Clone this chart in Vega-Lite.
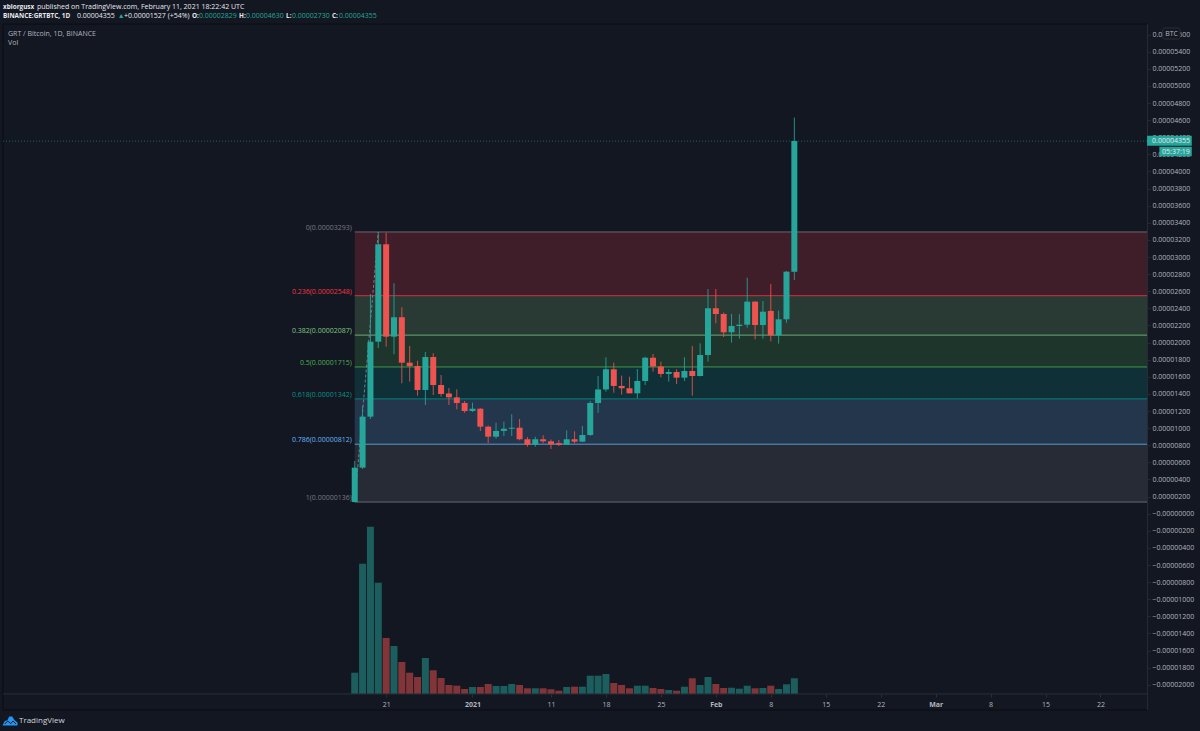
{
  "$schema": "https://vega.github.io/schema/vega-lite/v6.json",
  "width": 1200,
  "height": 731,
  "padding": 0,
  "autosize": {"type": "none"},
  "background": "#131722",
  "datasets": {
    "candles": [
      {"day":"2020-12-17","open":0.00000136,"high":0.00000616,"low":0.00000136,"close":0.00000538,"volume":21.3},
      {"day":"2020-12-18","open":0.00000538,"high":0.00001259,"low":0.00000522,"close":0.00001134,"volume":130.3},
      {"day":"2020-12-19","open":0.00001134,"high":0.00002568,"low":0.00001107,"close":0.0000201,"volume":167.3},
      {"day":"2020-12-20","open":0.0000201,"high":0.00003293,"low":0.00001937,"close":0.00003149,"volume":111.3},
      {"day":"2020-12-21","open":0.00003149,"high":0.00003284,"low":0.00001952,"close":0.00002069,"volume":56},
      {"day":"2020-12-22","open":0.00002069,"high":0.00002693,"low":0.00001863,"close":0.00002296,"volume":48},
      {"day":"2020-12-23","open":0.00002296,"high":0.00002412,"low":0.00001524,"close":0.00001765,"volume":32},
      {"day":"2020-12-24","open":0.00001765,"high":0.0000196,"low":0.00001543,"close":0.00001726,"volume":21.3},
      {"day":"2020-12-25","open":0.00001726,"high":0.00001788,"low":0.00001379,"close":0.00001446,"volume":17},
      {"day":"2020-12-26","open":0.00001446,"high":0.0000189,"low":0.0000127,"close":0.00001831,"volume":36},
      {"day":"2020-12-27","open":0.00001831,"high":0.00001875,"low":0.00001387,"close":0.00001504,"volume":23.7},
      {"day":"2020-12-28","open":0.00001504,"high":0.00001621,"low":0.00001367,"close":0.00001399,"volume":16},
      {"day":"2020-12-29","open":0.00001405,"high":0.00001469,"low":0.0000127,"close":0.0000136,"volume":9},
      {"day":"2020-12-30","open":0.0000136,"high":0.00001454,"low":0.0000122,"close":0.00001294,"volume":8.3},
      {"day":"2020-12-31","open":0.00001294,"high":0.00001317,"low":0.0000118,"close":0.000012,"volume":5},
      {"day":"2021-01-01","open":0.000012,"high":0.00001297,"low":0.00001189,"close":0.00001227,"volume":7},
      {"day":"2021-01-02","open":0.00001227,"high":0.00001232,"low":0.00000967,"close":0.00001017,"volume":7},
      {"day":"2021-01-03","open":0.00001017,"high":0.00001031,"low":0.00000826,"close":0.000009,"volume":10},
      {"day":"2021-01-04","open":0.000009,"high":0.00001064,"low":0.00000877,"close":0.00000967,"volume":8},
      {"day":"2021-01-05","open":0.00000967,"high":0.00001075,"low":0.00000908,"close":0.00000993,"volume":8},
      {"day":"2021-01-06","open":0.00000993,"high":0.00001162,"low":0.00000908,"close":0.00001005,"volume":10},
      {"day":"2021-01-07","open":0.00001005,"high":0.00001107,"low":0.00000858,"close":0.0000087,"volume":9},
      {"day":"2021-01-08","open":0.0000087,"high":0.00000896,"low":0.00000783,"close":0.00000806,"volume":5.7},
      {"day":"2021-01-09","open":0.00000806,"high":0.000009,"low":0.00000783,"close":0.0000087,"volume":5.7},
      {"day":"2021-01-10","open":0.0000087,"high":0.00000916,"low":0.00000823,"close":0.00000846,"volume":5.7},
      {"day":"2021-01-11","open":0.00000846,"high":0.00000867,"low":0.00000756,"close":0.00000811,"volume":4.7},
      {"day":"2021-01-12","open":0.00000825,"high":0.00000861,"low":0.00000791,"close":0.00000806,"volume":3.3},
      {"day":"2021-01-13","open":0.00000806,"high":0.00000975,"low":0.00000803,"close":0.0000087,"volume":7},
      {"day":"2021-01-14","open":0.0000087,"high":0.00000963,"low":0.00000823,"close":0.00000842,"volume":7.3},
      {"day":"2021-01-15","open":0.00000842,"high":0.00001025,"low":0.00000838,"close":0.0000092,"volume":7.3},
      {"day":"2021-01-16","open":0.0000092,"high":0.00001317,"low":0.00000908,"close":0.00001294,"volume":18.3},
      {"day":"2021-01-17","open":0.00001294,"high":0.00001609,"low":0.00001177,"close":0.00001452,"volume":18.3},
      {"day":"2021-01-18","open":0.00001452,"high":0.00001828,"low":0.00001426,"close":0.00001688,"volume":20},
      {"day":"2021-01-19","open":0.00001688,"high":0.00001765,"low":0.00001414,"close":0.00001493,"volume":11},
      {"day":"2021-01-20","open":0.00001493,"high":0.00001613,"low":0.00001391,"close":0.00001466,"volume":9},
      {"day":"2021-01-21","open":0.00001466,"high":0.00001601,"low":0.00001404,"close":0.00001407,"volume":5.7},
      {"day":"2021-01-22","open":0.00001407,"high":0.00001691,"low":0.00001349,"close":0.00001551,"volume":8.3},
      {"day":"2021-01-23","open":0.00001551,"high":0.00001835,"low":0.00001504,"close":0.00001823,"volume":8.3},
      {"day":"2021-01-24","open":0.00001823,"high":0.00001867,"low":0.0000166,"close":0.0000172,"volume":6},
      {"day":"2021-01-25","open":0.0000172,"high":0.00001777,"low":0.00001594,"close":0.00001633,"volume":5},
      {"day":"2021-01-26","open":0.00001633,"high":0.00001691,"low":0.00001543,"close":0.00001656,"volume":4},
      {"day":"2021-01-27","open":0.00001656,"high":0.00001688,"low":0.00001516,"close":0.0000159,"volume":3.3},
      {"day":"2021-01-28","open":0.0000159,"high":0.00001828,"low":0.00001551,"close":0.00001668,"volume":7.3},
      {"day":"2021-01-29","open":0.00001668,"high":0.0000196,"low":0.00001379,"close":0.00001609,"volume":15.7},
      {"day":"2021-01-30","open":0.00001609,"high":0.00001992,"low":0.00001604,"close":0.00001855,"volume":9},
      {"day":"2021-01-31","open":0.00001855,"high":0.00002626,"low":0.00001777,"close":0.00002401,"volume":17},
      {"day":"2021-02-01","open":0.00002401,"high":0.00002626,"low":0.00002225,"close":0.00002334,"volume":10},
      {"day":"2021-02-02","open":0.00002334,"high":0.00002352,"low":0.00002065,"close":0.0000212,"volume":6},
      {"day":"2021-02-03","open":0.0000212,"high":0.00002334,"low":0.00001999,"close":0.00002194,"volume":6.3},
      {"day":"2021-02-04","open":0.00002194,"high":0.00002331,"low":0.00002045,"close":0.00002209,"volume":5.3},
      {"day":"2021-02-05","open":0.00002209,"high":0.00002758,"low":0.00002174,"close":0.00002478,"volume":8.3},
      {"day":"2021-02-06","open":0.00002478,"high":0.00002486,"low":0.00002038,"close":0.00002205,"volume":5.7},
      {"day":"2021-02-07","open":0.00002205,"high":0.00002486,"low":0.00002045,"close":0.00002361,"volume":6},
      {"day":"2021-02-08","open":0.0000237,"high":0.00002685,"low":0.00002015,"close":0.00002085,"volume":8.3},
      {"day":"2021-02-09","open":0.00002085,"high":0.00002373,"low":0.00001987,"close":0.00002272,"volume":5},
      {"day":"2021-02-10","open":0.00002272,"high":0.00002835,"low":0.00002232,"close":0.00002829,"volume":9.7},
      {"day":"2021-02-11","open":0.00002829,"high":0.0000463,"low":0.0000273,"close":0.00004355,"volume":15.7}
    ],
    "fib": [
      {"level":"0","label":"0(0.00003293)","day":"2020-12-17","end":"2021-03-28","price":0.00003293},
      {"level":"0.236","label":"0.236(0.00002548)","day":"2020-12-17","end":"2021-03-28","price":0.00002548,"upper":0.00003293},
      {"level":"0.382","label":"0.382(0.00002087)","day":"2020-12-17","end":"2021-03-28","price":0.00002087,"upper":0.00002548},
      {"level":"0.5","label":"0.5(0.00001715)","day":"2020-12-17","end":"2021-03-28","price":0.00001715,"upper":0.00002087},
      {"level":"0.618","label":"0.618(0.00001342)","day":"2020-12-17","end":"2021-03-28","price":0.00001342,"upper":0.00001715},
      {"level":"0.786","label":"0.786(0.00000812)","day":"2020-12-17","end":"2021-03-28","price":0.00000812,"upper":0.00001342},
      {"level":"1","label":"1(0.00000136)","day":"2020-12-17","end":"2021-03-28","price":0.00000136,"upper":0.00000812}
    ],
    "trend": [
      {"day":"2020-12-17","price":0.00000136},
      {"day":"2020-12-20","price":0.00003293}
    ],
    "frame": [
      {"day":"2020-11-02T04:37:00Z","end":"2021-03-28","price":-0.00002294,"upper":0.00005723}
    ],
    "axisEdge": [
      {"day":"2021-03-28","price":-0.00002294,"upper":0.00005723}
    ],
    "timeLine": [
      {"day":"2020-11-02T04:37:00Z","end":"2021-03-28","price":-0.00002107}
    ],
    "lastPrice": [
      {"day":"2020-11-02T04:37:00Z","end":"2021-03-28","price":0.00004355}
    ],
    "tags": [
      {"day":"2021-03-27T22:30:00Z","end":"2021-04-02T15:06:00Z","price":0.00004301,"upper":0.00004418},
      {"day":"2021-03-29T12:06:00Z","end":"2021-04-02T15:06:00Z","price":0.00004177,"upper":0.00004289}
    ],
    "badge": [
      {"day":"2021-03-29T22:30:00Z","end":"2021-04-01T03:18:00Z","price":0.00005548,"upper":0.00005677}
    ],
    "labels": [
      {"text":"published on TradingView.com, February 11, 2021 18:22:42 UTC","day":"2020-11-06T12:34:00Z","price":0.00005922,"kind":"plain"},
      {"text":"0.00004355","day":"2020-11-11T14:52:00Z","price":0.00005817,"kind":"plain"},
      {"text":"▲","day":"2020-11-16T19:30:00Z","price":0.00005817,"kind":"up"},
      {"text":"+0.00001527 (+54%)","day":"2020-11-17T14:33:00Z","price":0.00005817,"kind":"plain"},
      {"text":"0.00002829","day":"2020-11-27T03:51:00Z","price":0.00005817,"kind":"up"},
      {"text":"0.00004630","day":"2020-12-03T03:33:00Z","price":0.00005817,"kind":"up"},
      {"text":"0.00002730","day":"2020-12-09T00:11:00Z","price":0.00005817,"kind":"up"},
      {"text":"0.00004355","day":"2020-12-14T23:56:00Z","price":0.00005817,"kind":"up"},
      {"text":"GRT / Bitcoin, 1D, BINANCE","day":"2020-11-02T19:54:00Z","price":0.00005607,"kind":"muted"},
      {"text":"Vol","day":"2020-11-02T19:54:00Z","price":0.00005502,"kind":"muted"},
      {"text":"0.00004355","day":"2021-03-28T13:47:00Z","price":0.0000436,"kind":"plain"},
      {"text":"05:37:19","day":"2021-03-29T20:21:00Z","price":0.00004233,"kind":"plain"},
      {"text":"BTC","day":"2021-03-30T05:42:00Z","price":0.00005612,"kind":"muted"}
    ],
    "boldLabels": [
      {"text":"xblorgusx","day":"2020-11-02T04:37:00Z","price":0.00005922},
      {"text":"BINANCE:GRTBTC, 1D","day":"2020-11-02T04:37:00Z","price":0.00005817},
      {"text":"O:","day":"2020-11-26T06:28:00Z","price":0.00005817},
      {"text":"H:","day":"2020-12-02T06:10:00Z","price":0.00005817},
      {"text":"L:","day":"2020-12-08T05:54:00Z","price":0.00005817},
      {"text":"C:","day":"2020-12-14T02:34:00Z","price":0.00005817}
    ],
    "logo": [
      {"day":"2020-11-03T02:01:00Z","price":-0.00002423}
    ],
    "logoText": [
      {"text":"TradingView","day":"2020-11-04T05:32:00Z","price":-0.00002423}
    ]
  },
  "encoding": {
    "x": {
      "field": "day",
      "type": "temporal",
      "scale": {"type": "utc", "nice": false, "padding": 0, "domain": ["2020-11-01T19:27:00Z", "2021-04-03T16:16:00Z"]},
      "axis": {
        "title": null,
        "orient": "bottom",
        "offset": -37,
        "grid": false,
        "domain": false,
        "tickSize": 3,
        "tickColor": "#2a2e39",
        "labelPadding": 3,
        "labelColor": "#b2b5be",
        "labelFont": "Open Sans",
        "labelFontSize": 7,
        "labelFontWeight": {"condition": {"test": "utcdate(datum.value) === 1", "value": "bold"}, "value": "normal"},
        "labelOverlap": false,
        "values": [
          {"year": 2020, "month": 12, "date": 21, "utc": true},
          {"year": 2021, "month": 1, "date": 1, "utc": true},
          {"year": 2021, "month": 1, "date": 11, "utc": true},
          {"year": 2021, "month": 1, "date": 18, "utc": true},
          {"year": 2021, "month": 1, "date": 25, "utc": true},
          {"year": 2021, "month": 2, "date": 1, "utc": true},
          {"year": 2021, "month": 2, "date": 8, "utc": true},
          {"year": 2021, "month": 2, "date": 15, "utc": true},
          {"year": 2021, "month": 2, "date": 22, "utc": true},
          {"year": 2021, "month": 3, "date": 1, "utc": true},
          {"year": 2021, "month": 3, "date": 8, "utc": true},
          {"year": 2021, "month": 3, "date": 15, "utc": true},
          {"year": 2021, "month": 3, "date": 22, "utc": true}
        ],
        "labelExpr": "utcdate(datum.value) !== 1 ? utcFormat(datum.value, '%-d') : utcmonth(datum.value) === 0 ? utcFormat(datum.value, '%Y') : utcFormat(datum.value, '%b')"
      }
    }
  },
  "layer": [
    {
      "data": {"name": "candles"},
      "mark": {"type": "bar", "size": 7, "opacity": 0.5},
      "encoding": {
        "y": {
          "field": "volume",
          "type": "quantitative",
          "scale": {"domain": [-37, 694], "nice": false, "zero": false},
          "axis": null
        },
        "color": {
          "condition": {"test": "datum.close >= datum.open", "value": "#26a69a"},
          "value": "#ef5350"
        }
      }
    },
    {
      "encoding": {
        "y": {
          "field": "price",
          "type": "quantitative",
          "scale": {"domain": [-0.0000254, 0.00006004], "nice": false, "zero": false},
          "axis": {
            "title": null,
            "orient": "right",
            "offset": -53,
            "grid": false,
            "domain": false,
            "tickSize": 3,
            "tickColor": "#2a2e39",
            "labelPadding": 2,
            "labelColor": "#b2b5be",
            "labelFont": "Open Sans",
            "labelFontSize": 7,
            "labelOverlap": false,
            "values": [0.000056, 0.000054, 0.000052, 0.00005, 0.000048, 0.000046, 0.000044, 0.000042, 0.00004, 0.000038, 0.000036, 0.000034, 0.000032, 0.00003, 0.000028, 0.000026, 0.000024, 0.000022, 0.00002, 0.000018, 0.000016, 0.000014, 0.000012, 0.00001, 0.000008, 0.000006, 0.000004, 0.000002, 0, -0.000002, -0.000004, -0.000006, -0.000008, -0.00001, -0.000012, -0.000014, -0.000016, -0.000018, -0.00002],
            "labelExpr": "datum.value === 0 ? '−0.00000000' : format(datum.value, '.8f')"
          }
        }
      },
      "layer": [
        {
          "data": {"name": "fib"},
          "transform": [{"filter": "isValid(datum.upper)"}],
          "mark": {"type": "rect", "fillOpacity": 0.2},
          "encoding": {
            "x2": {"field": "end"},
            "y2": {"field": "upper"},
            "fill": {
              "field": "level",
              "type": "nominal",
              "legend": null,
              "scale": {
                "domain": ["0", "0.236", "0.382", "0.5", "0.618", "0.786", "1"],
                "range": ["#787b86", "#f23645", "#81c784", "#4caf50", "#009688", "#64b5f6", "#787b86"]
              }
            }
          }
        },
        {
          "data": {"name": "fib"},
          "mark": {"type": "rule", "strokeWidth": 1, "opacity": 0.8},
          "encoding": {
            "x2": {"field": "end"},
            "color": {
              "field": "level",
              "type": "nominal",
              "legend": null,
              "scale": {
                "domain": ["0", "0.236", "0.382", "0.5", "0.618", "0.786", "1"],
                "range": ["#787b86", "#f23645", "#81c784", "#4caf50", "#009688", "#64b5f6", "#787b86"]
              }
            }
          }
        },
        {
          "data": {"name": "fib"},
          "mark": {"type": "text", "align": "right", "baseline": "middle", "dx": -3, "dy": -4, "font": "Open Sans", "fontSize": 7},
          "encoding": {
            "text": {"field": "label"},
            "color": {
              "field": "level",
              "type": "nominal",
              "legend": null,
              "scale": {
                "domain": ["0", "0.236", "0.382", "0.5", "0.618", "0.786", "1"],
                "range": ["#787b86", "#f23645", "#81c784", "#4caf50", "#009688", "#64b5f6", "#787b86"]
              }
            }
          }
        },
        {
          "data": {"name": "trend"},
          "mark": {"type": "line", "color": "#787b86", "strokeWidth": 1, "strokeDash": [3, 2]}
        },
        {
          "data": {"name": "candles"},
          "mark": {"type": "rule", "strokeWidth": 1, "opacity": 0.85},
          "encoding": {
            "y": {"field": "low", "type": "quantitative"},
            "y2": {"field": "high"},
            "color": {
              "condition": {"test": "datum.close >= datum.open", "value": "#26a69a"},
              "value": "#ef5350"
            }
          }
        },
        {
          "data": {"name": "candles"},
          "mark": {"type": "bar", "size": 6},
          "encoding": {
            "y": {"field": "open", "type": "quantitative"},
            "y2": {"field": "close"},
            "color": {
              "condition": {"test": "datum.close >= datum.open", "value": "#26a69a"},
              "value": "#ef5350"
            }
          }
        },
        {
          "data": {"name": "frame"},
          "mark": {"type": "rect", "filled": false, "stroke": "#0b0d13", "strokeWidth": 1},
          "encoding": {"x2": {"field": "end"}, "y2": {"field": "upper"}}
        },
        {
          "data": {"name": "axisEdge"},
          "mark": {"type": "rule", "color": "#2a2e39", "strokeWidth": 1},
          "encoding": {"y2": {"field": "upper"}}
        },
        {
          "data": {"name": "timeLine"},
          "mark": {"type": "rule", "color": "#2a2e39", "strokeWidth": 1},
          "encoding": {"x2": {"field": "end"}}
        },
        {
          "data": {"name": "lastPrice"},
          "mark": {"type": "rule", "color": "#26a69a", "strokeWidth": 1, "opacity": 0.55, "strokeDash": [1, 2]},
          "encoding": {"x2": {"field": "end"}}
        },
        {
          "data": {"name": "tags"},
          "mark": {"type": "rect", "fill": "#26a69a"},
          "encoding": {"x2": {"field": "end"}, "y2": {"field": "upper"}}
        },
        {
          "data": {"name": "badge"},
          "mark": {"type": "rect", "fill": "#131722", "stroke": "#2a2e39", "strokeWidth": 1, "cornerRadius": 2},
          "encoding": {"x2": {"field": "end"}, "y2": {"field": "upper"}}
        },
        {
          "data": {"name": "labels"},
          "mark": {"type": "text", "align": "left", "baseline": "middle", "font": "Open Sans", "fontSize": 7},
          "encoding": {
            "text": {"field": "text"},
            "color": {
              "condition": [
                {"test": "datum.kind === 'up'", "value": "#26a69a"},
                {"test": "datum.kind === 'muted'", "value": "#b2b5be"}
              ],
              "value": "#e6e8ee"
            }
          }
        },
        {
          "data": {"name": "boldLabels"},
          "mark": {"type": "text", "align": "left", "baseline": "middle", "font": "Open Sans", "fontSize": 6.4, "fontWeight": "bold", "color": "#e6e8ee"},
          "encoding": {"text": {"field": "text"}}
        },
        {
          "data": {"name": "logo"},
          "mark": {"type": "point", "filled": true, "size": 225, "opacity": 1, "color": "#2196f3", "shape": "M-1,0.6 L-0.7,0 L-0.35,-0.1 L-0.1,-0.6 L0.3,-0.6 L0.6,-0.1 L1,0.2 L1,0.6 Z"}
        },
        {
          "data": {"name": "logo"},
          "mark": {"type": "point", "filled": false, "size": 225, "opacity": 1, "strokeWidth": 1, "color": "#131722", "shape": "M-0.7,0.4 L-0.3,0 L0.1,0.35 L0.4,0 L0.8,0.4"}
        },
        {
          "data": {"name": "logoText"},
          "mark": {"type": "text", "align": "left", "baseline": "middle", "font": "Open Sans", "fontSize": 8, "color": "#d1d4dc"},
          "encoding": {"text": {"field": "text"}}
        }
      ]
    }
  ],
  "resolve": {"scale": {"y": "independent"}},
  "config": {"view": {"stroke": null}}
}
